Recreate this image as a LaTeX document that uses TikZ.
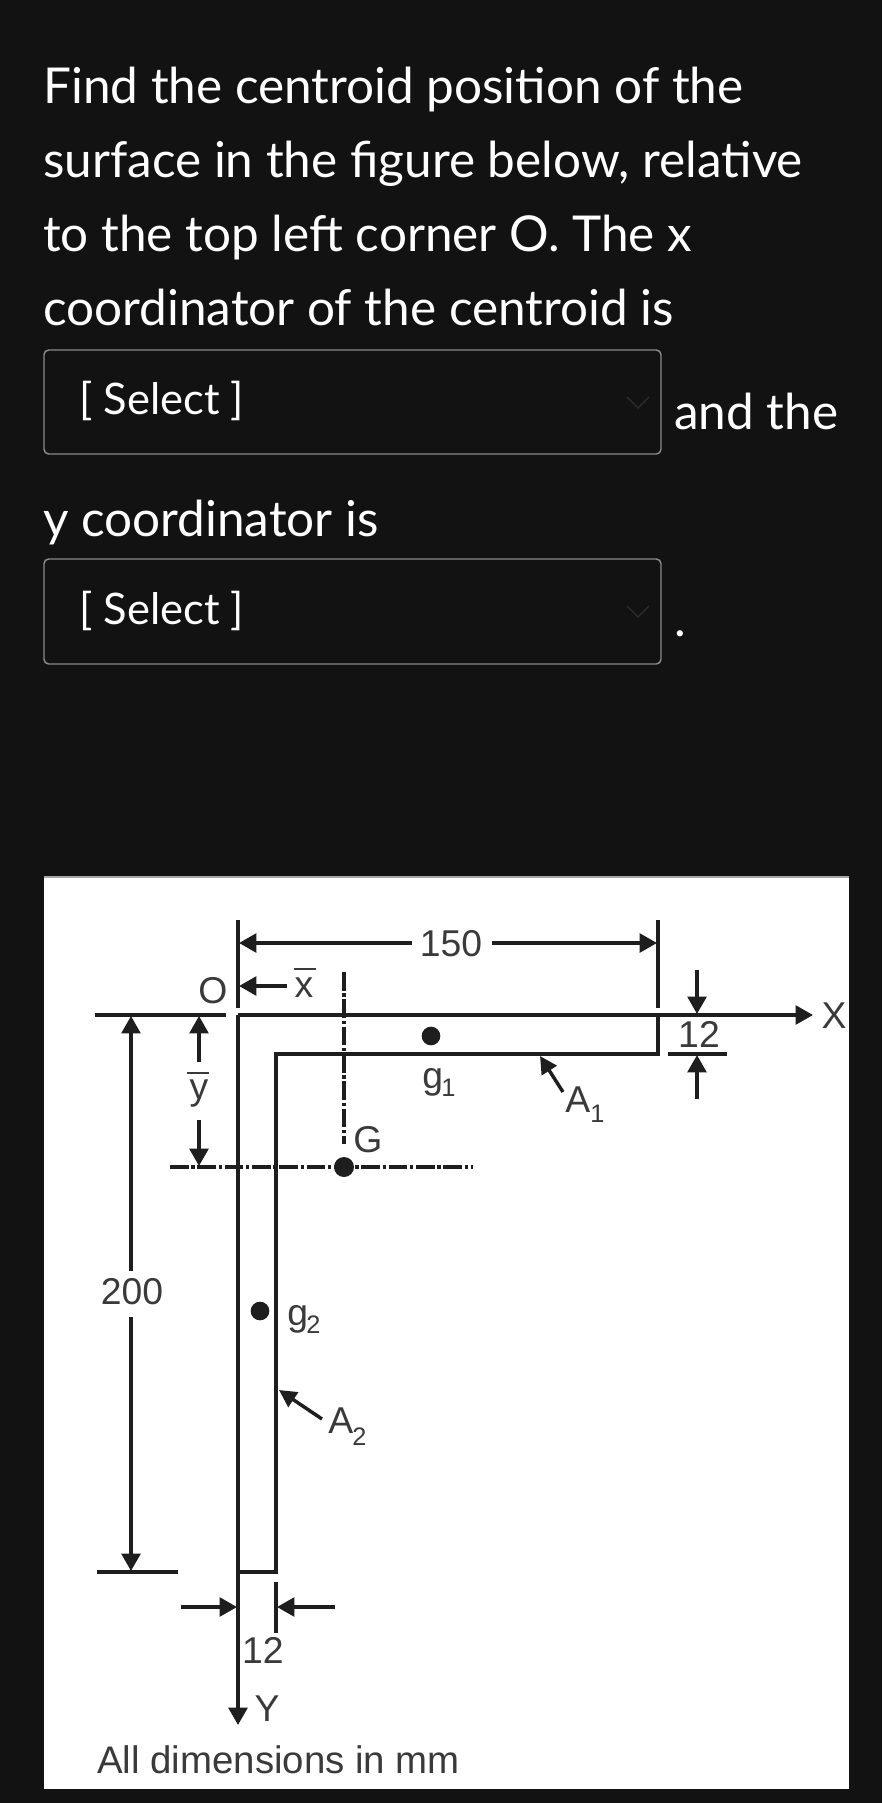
\documentclass[tikz,border=0pt]{standalone}
\usepackage{fontspec}
\setmainfont{Lato}
\newfontfamily\figfont{Liberation Sans}
\usetikzlibrary{arrows.meta}
\definecolor{pagebg}{HTML}{121212}
\definecolor{boxedge}{HTML}{8A8A8A}
\definecolor{chev}{HTML}{2E2E2E}
\definecolor{ink}{HTML}{1E1E1E}
\definecolor{figtext}{HTML}{3A3A3A}
\tikzset{
  qtext/.style={anchor=base west,inner sep=0pt,text=white,font=\fontsize{37.1}{37.1}\selectfont},
  seltext/.style={anchor=base west,inner sep=0pt,text=white,font=\fontsize{32.6}{32.6}\selectfont},
  selbox/.style={draw=boxedge,line width=1.1pt,rounded corners=3.5pt},
  chevron/.style={draw=chev,line width=.9pt},
  lbl/.style={anchor=base,inner sep=0pt,text=figtext,font=\figfont\fontsize{28}{28}\selectfont},
  lbll/.style={lbl,anchor=base west},
  sub/.style={lbll,font=\figfont\fontsize{19}{19}\selectfont},
  ln/.style={draw=ink,line width=2.6pt},
  arr/.style={ln,-{Triangle[length=13pt,width=14pt]}},
  cl/.style={draw=ink,line width=2.6pt,dash pattern=on 14pt off 2pt on 2.5pt off 2pt},
  dotn/.style={circle,fill=ink,inner sep=0pt,minimum size=14pt},
}
\begin{document}
\begin{tikzpicture}[x=.75pt,y=-.75pt]
\useasboundingbox (0,0) rectangle (882,1803);
\fill[pagebg] (0,0) rectangle (882,1803);
% question text
\node[qtext] (q1) at (43,103) {Find the centroid position of the};
\node[qtext] (q2) at (43,177) {surface in the figure below, relative};
\node[qtext] (q3) at (43,251) {to the top left corner O. The x};
\node[qtext] (q4) at (43,325) {coordinator of the centroid is};
\draw[selbox] (44,350) rectangle (661,454);
\node[seltext] (s1) at (79,414) {[ Select ]};
\draw[chevron] (627,397) -- (638,408) -- (649,397);
\node[qtext] (q5) at (674,429) {and the};
\node[qtext] (q6) at (43,536) {y coordinator is};
\draw[selbox] (44,559) rectangle (661,664);
\node[seltext] (s2) at (79,624) {[ Select ]};
\draw[chevron] (627,606) -- (638,617) -- (649,606);
\node[qtext] (q7) at (674,636) {.};
% figure panel
\fill[white] (44,877) rectangle (849,1789);
\draw[line width=1pt,draw=black!35] (44,877) -- (849,877);
% coordinates
\coordinate (tl) at (238,1015);
\coordinate (xtip) at (813,1015);
\coordinate (ytip) at (238,1725);
\coordinate (ic) at (276,1054);
\coordinate (ir) at (658,1054);
\coordinate (tr) at (658,1015);
\coordinate (ib) at (276,1572);
\coordinate (lb) at (238,1572);
% section outline and axes
\draw[arr] (tl) -- (xtip);
\draw[arr] (tl) -- (ytip);
\draw[ln,line join=miter] (tr) -- (ir) -- (ic) -- (ib) -- (lb);
% extension lines
\coordinate (t1a) at (238,920); \coordinate (t1b) at (238,1008);
\coordinate (t2a) at (658,920); \coordinate (t2b) at (658,1008);
\draw[ln] (t1a) -- (t1b);
\draw[ln] (t2a) -- (t2b);
\coordinate (hl1) at (95,1015); \coordinate (hl2) at (226,1015);
\draw[ln] (hl1) -- (hl2);
\coordinate (bl1) at (97,1572); \coordinate (bl2) at (178,1572);
\draw[ln] (bl1) -- (bl2);
% 150
\node[lbl] (d150) at (451,956) {150};
\coordinate (a150l) at (239,943); \coordinate (s150l) at (412,943);
\coordinate (a150r) at (657,943); \coordinate (s150r) at (492,943);
\draw[arr] (s150l) -- (a150l);
\draw[arr] (s150r) -- (a150r);
% O, xbar
\node[lbl] (O) at (213,1003) {O};
\node[lbl] (xb) at (304,997) {x};
\coordinate (xbar1) at (294,969); \coordinate (xbar2) at (316,969);
\draw[draw=figtext,line width=1.6pt] (xbar1) -- (xbar2);
\coordinate (xa) at (239,986); \coordinate (xs) at (287,986);
\draw[arr] (xs) -- (xa);
% ybar
\node[lbl] (yb) at (199,1099) {y};
\coordinate (ybar1) at (187,1073); \coordinate (ybar2) at (209,1073);
\draw[draw=figtext,line width=1.6pt] (ybar1) -- (ybar2);
\coordinate (ya1) at (199,1062); \coordinate (yt1) at (199,1016);
\coordinate (ya2) at (199,1120); \coordinate (yt2) at (199,1166);
\draw[arr] (ya1) -- (yt1);
\draw[arr] (ya2) -- (yt2);
% 200
\node[lbl] (d200) at (132,1304) {200};
\coordinate (d2a) at (131,1271); \coordinate (d2at) at (131,1016);
\coordinate (d2b) at (131,1317); \coordinate (d2bt) at (131,1571);
\draw[arr] (d2a) -- (d2at);
\draw[arr] (d2b) -- (d2bt);
% centre lines
\coordinate (vc1) at (344,972); \coordinate (vc2) at (344,1144);
\coordinate (hc1) at (170,1167); \coordinate (hc2) at (473,1167);
\draw[cl] (vc1) -- (vc2);
\draw[cl] (hc1) -- (hc2);
\node[dotn,minimum size=15pt] (Gd) at (344,1167) {};
\node[lbl] (G) at (368,1152) {G};
% g1
\node[dotn] (g1d) at (431,1036) {};
\node[lbll] (g1) at (422,1088) {g};
\node[sub] (g1s) at (441,1096) {1};
% A1
\coordinate (a1s) at (563,1092); \coordinate (a1t) at (540,1056);
\draw[draw=ink,line width=2.6pt,-{Triangle[length=13pt,width=13pt]}] (a1s) -- (a1t);
\node[lbll] (A1) at (565,1112) {A};
\node[sub] (A1s) at (590,1122) {1};
% right 12
\node[lbl] (d12r) at (699,1047) {12};
\coordinate (r1a) at (697,970); \coordinate (r1t) at (697,1014);
\coordinate (r2a) at (697,1099); \coordinate (r2t) at (697,1055);
\draw[arr] (r1a) -- (r1t);
\draw[arr] (r2a) -- (r2t);
\coordinate (rb1) at (668,1054); \coordinate (rb2) at (727,1054);
\draw[ln] (rb1) -- (rb2);
\node[lbl] (X) at (834,1028) {X};
% g2
\node[dotn] (g2d) at (260,1311) {};
\node[lbll] (g2) at (287,1325) {g};
\node[sub] (g2s) at (306,1333) {2};
% A2
\coordinate (a2s) at (322,1419); \coordinate (a2t) at (279,1390);
\draw[draw=ink,line width=2.6pt,-{Triangle[length=13pt,width=13pt]}] (a2s) -- (a2t);
\node[lbll] (A2) at (328,1433) {A};
\node[sub] (A2s) at (352,1445) {2};
% bottom 12
\coordinate (b1a) at (181,1607); \coordinate (b1t) at (237,1607);
\coordinate (b2a) at (335,1607); \coordinate (b2t) at (277,1607);
\draw[arr] (b1a) -- (b1t);
\draw[arr] (b2a) -- (b2t);
\coordinate (bt1) at (276,1582); \coordinate (bt2) at (276,1633);
\draw[ln] (bt1) -- (bt2);
\node[lbl] (d12b) at (263,1663) {12};
\node[lbl] (Y) at (267,1721) {Y};
\node[lbll,font=\figfont\fontsize{28.8}{28.8}\selectfont] (note) at (97,1773) {All dimensions in mm};
\end{tikzpicture}
\end{document}
